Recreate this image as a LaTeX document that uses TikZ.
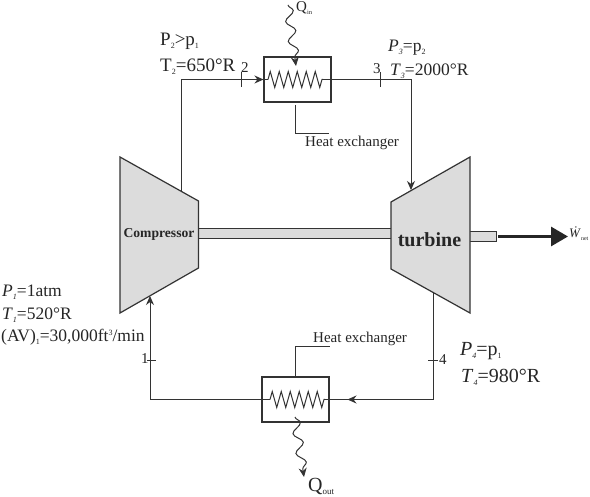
\documentclass[tikz,border=0pt]{standalone}
\usepackage{fontspec}
\setmainfont{Liberation Serif}
\usepackage{xcolor}
\usetikzlibrary{arrows.meta,decorations.pathmorphing,decorations.markings}
\definecolor{inkline}{HTML}{333333}
\definecolor{casing}{HTML}{DCDCDC}
\newcommand{\lowsub}[1]{\raisebox{-3pt}{\fontsize{8}{8}\selectfont #1}}
\newcommand{\tinysub}[1]{\raisebox{-2.5pt}{\fontsize{6.5}{7}\selectfont #1}}
\newcommand{\smallsup}[1]{\raisebox{6.5pt}{\fontsize{8}{8}\selectfont #1}}
\begin{document}
\begin{tikzpicture}[
  x=1pt, y=-1pt,
  statetxt/.style={anchor=base west, inner sep=0pt, text=black!85, font=\fontsize{19}{19}\selectfont},
  sidetxt/.style={anchor=base west, inner sep=0pt, text=black!85, font=\fontsize{17.5}{18}\selectfont},
  bigtxt/.style={anchor=base west, inner sep=0pt, text=black!85, font=\fontsize{20}{20}\selectfont},
  smalltxt/.style={anchor=base west, inner sep=0pt, text=black!85, font=\fontsize{15}{15}\selectfont},
  hxbox/.style={draw=inkline, line width=1.1pt, minimum width=67pt, minimum height=45pt, inner sep=0pt},
  machine/.style={draw=inkline, line width=1.2pt, fill=casing},
  pipe/.style={draw=inkline, line width=1pt},
  arrow/.style={pipe, -{Stealth[length=9pt,width=8pt]}},
  coil/.style={pipe, decorate, decoration={zigzag, amplitude=8pt, segment length=9pt}},
  heatflow/.style={arrow, decorate, decoration={snake, amplitude=4.5pt, segment length=20pt, post length=6pt}},
  midarrow/.style={pipe, postaction={decorate}, decoration={markings, mark=at position 0.915 with {\arrow{Stealth[length=9pt,width=8pt]}}}},
  tick/.style={draw=inkline, line width=0.7pt}
]
\useasboundingbox (0,0) rectangle (590,497);
\fill[white] (0,0) rectangle (590,497);
% shafts first, casings on top
\node[machine, minimum width=193pt, minimum height=9.5pt, inner sep=0pt] (shaft) at (295,233.5) {};
\node[machine, minimum width=27pt, minimum height=9.5pt, inner sep=0pt] (stub) at (483,236.5) {};
\draw[machine] (120,157) -- (198.5,201) -- (198.5,268) -- (120,313) -- cycle;
\draw[machine] (391,202) -- (470,157) -- (470,313) -- (391,269) -- cycle;
\node[anchor=center, inner sep=0pt, text=black!85, font=\fontsize{13.6}{14}\bfseries\selectfont] (comp) at (159,234) {Compressor};
\node[anchor=center, inner sep=0pt, text=black!85, font=\fontsize{20}{20}\bfseries\selectfont] (turb) at (429.5,240) {turbine};
% heat exchangers
\node[hxbox] (hxin) at (297.5,79.5) {};
\node[hxbox] (hxout) at (295.5,399.5) {};
\coordinate (compout) at (181,191);
\coordinate (compin) at (150,296);
\coordinate (turbin) at (411,190);
\coordinate (turbout) at (433,292);
\coordinate (ci1) at (268,79.5);
\coordinate (ci2) at (323,79.5);
\coordinate (co1) at (270,399.5);
\coordinate (co2) at (325,399.5);
\draw[pipe] (hxin.west) -- (ci1);
\draw[coil] (ci1) -- (ci2);
\draw[pipe] (ci2) -- (hxin.east);
\draw[pipe] (hxout.west) -- (co1);
\draw[coil] (co1) -- (co2);
\draw[pipe] (co2) -- (hxout.east);
% loop
\draw[arrow] (compout) |- (hxin.west);
\draw[arrow] (hxin.east) -| (turbin);
\draw[midarrow] (turbout) |- (hxout.east);
\draw[arrow] (hxout.west) -| (compin);
% state ticks
\draw[tick] (241,72) -- (241,87);
\draw[tick] (380,72) -- (380,87);
\draw[tick] (147,360) -- (156,360);
\draw[tick] (428,360) -- (438,360);
% callouts
\node[smalltxt] (hxinlbl) at (305,147) {Heat exchanger};
\node[smalltxt] (hxoutlbl) at (313,343) {Heat exchanger};
\coordinate (hxinfoot) at (295,105);
\coordinate (hxinend) at (329,134);
\coordinate (hxoutend) at (330,347);
\draw[pipe] (hxinfoot) |- (hxinend);
\draw[pipe] (hxout.north) |- (hxoutend);
% heat
\node[smalltxt] (qin) at (296,12) {Q\tinysub{in}};
\node[bigtxt] (qout) at (308,492) {Q\raisebox{-2pt}{\fontsize{9}{9}\selectfont out}};
\coordinate (qinstart) at (288,5);
\coordinate (qinend) at (296,66);
\coordinate (qoutstart) at (295,417);
\coordinate (qoutend) at (304,477);
\draw[heatflow] (qinstart) -- (qinend);
\draw[heatflow] (qoutstart) -- (qoutend);
% work output
\coordinate (workstart) at (498,236.5);
\coordinate (workend) at (568,236.5);
\draw[draw=black!85, line width=3pt, -{Triangle[length=17pt,width=19pt]}] (workstart) -- (workend);
\node[anchor=base west, inner sep=0pt, text=black!85, font=\fontsize{13}{13}\selectfont] (wnet) at (569,238) {\textit{\.{W}}\raisebox{-2.5pt}{\fontsize{6}{6}\selectfont net}};
% state labels
\node[statetxt] (st2a) at (160,46) {P\lowsub{2}>p\lowsub{1}};
\node[statetxt] (st2b) at (160,72) {T\lowsub{2}=650°R};
\node[smalltxt] (n2) at (241,73) {2};
\node[sidetxt] (st3a) at (388,52) {\textit{P}\lowsub{\textit{3}}=p\lowsub{2}};
\node[sidetxt] (st3b) at (390,76) {\textit{T}\lowsub{\textit{3}}=2000°R};
\node[smalltxt] (n3) at (373,74) {3};
\node[sidetxt] (st1a) at (2,297) {\textit{P}\lowsub{\textit{1}}=1atm};
\node[sidetxt] (st1b) at (2,320) {\textit{T}\lowsub{\textit{1}}=520°R};
\node[sidetxt] (st1c) at (1,342) {(AV)\lowsub{1}=30,000ft\smallsup{3}/min};
\node[smalltxt] (n1) at (141,364) {1};
\node[smalltxt] (n4) at (439,365) {4};
\node[bigtxt] (st4a) at (460,356) {\textit{P}\lowsub{\textit{4}}=p\lowsub{1}};
\node[bigtxt] (st4b) at (461,383) {\textit{T}\lowsub{\textit{4}}=980°R};
\end{tikzpicture}
\end{document}
